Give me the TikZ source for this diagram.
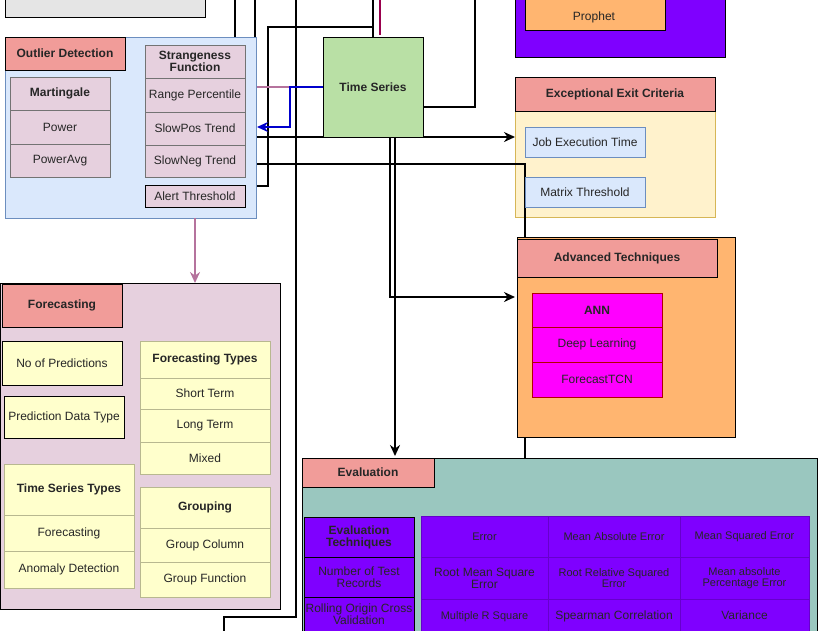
\documentclass[tikz,border=0pt]{standalone}
\usepackage{fontspec}
\setmainfont{Liberation Sans}
\usetikzlibrary{arrows.meta}
\definecolor{hdr}{HTML}{F19C99}
\definecolor{pinkf}{HTML}{E6D0DE}
\definecolor{bluef}{HTML}{DAE8FC}
\definecolor{blued}{HTML}{6C8EBF}
\definecolor{yel}{HTML}{FFFFCC}
\definecolor{yeld}{HTML}{B8B890}
\definecolor{purp}{HTML}{7F00FF}
\definecolor{purpd}{HTML}{6600CC}
\definecolor{orng}{HTML}{FFB570}
\definecolor{cream}{HTML}{FFF2CC}
\definecolor{creamd}{HTML}{D6B656}
\definecolor{teal}{HTML}{9AC7BF}
\definecolor{green}{HTML}{B9E0A5}
\definecolor{mag}{HTML}{FF00FF}
\definecolor{pinkl}{HTML}{B5739D}
\definecolor{maroon}{HTML}{99004D}
\newcommand\bx[7]{\node[#6, minimum width={#4-#2}, minimum height={#5-#3}] (#1) at ({(#2+#4)/2},{(#3+#5)/2}) {#7};}
\begin{document}
\begin{tikzpicture}[x=1pt,y=-1pt,
  every node/.style={inner sep=0pt, align=center, font=\fontsize{12}{14}\selectfont, text=black!85},
  b/.style={font=\fontsize{12}{14}\selectfont\bfseries},
  base/.style={draw, line width=0.8pt},
  hd/.style={base, fill=hdr, draw=black, b},
  pk/.style={base, fill=pinkf, draw=black!55},
  yl/.style={base, fill=yel, draw=yeld},
  pu/.style={base, fill=purp, draw=purpd},
  wire/.style={line width=2.5pt, black},
  arr/.style={-{Stealth[length=11pt,width=10pt]}}]
\useasboundingbox (0,0) rectangle (834,630);
\clip (0,0) rectangle (834,630);
% background top boxes
\bx{gray}{5}{-10}{205}{17}{base, fill=black!10, draw=black}{}
\bx{purpbox}{515}{-10}{725}{57}{base, fill=purp, draw=black}{}
\bx{prophet}{525}{-10}{665}{30}{base, fill=orng, draw=black}{}
\node at (594,17) {Prophet};
% wires
\coordinate (t1) at (235,-5); \coordinate (t1b) at (235,37);
\draw[wire] (t1) -- (t1b);
\coordinate (t2) at (255,-5); \coordinate (t2b) at (255,37);
\draw[wire] (t2) -- (t2b);
\coordinate (t3) at (296,-5); \coordinate (t3b) at (224,640);
\draw[wire] (t3) -- (296,617) -- (224,617) -- (t3b);
\coordinate (t4) at (373,-5);
\draw[wire] (257,186) -- (268,186) -- (268,27) -- (373,27);
\draw[wire] (t4) -- (373,37);
\coordinate (t5) at (475,-5);
\draw[wire] (423,107) -- (475,107) -- (t5);
\draw[line width=2.5pt, maroon] (380,-5) -- (380,35);
\draw[wire] (390,137) -- (390,297) -- (515,297) [arr];
\draw[wire, arr] (395,137) -- (395,456);
% outlier detection
\bx{outlier}{5}{37}{256}{218}{base, fill=bluef, draw=blued}{}
\bx{odh}{5}{37}{125}{70}{hd}{Outlier Detection}
\bx{mart}{10}{77}{110}{110}{pk, b}{Martingale}
\bx{power}{10}{110}{110}{144}{pk}{Power}
\bx{poweravg}{10}{144}{110}{177}{pk}{PowerAvg}
\bx{strange}{145}{45}{245}{78}{pk, b}{Strangeness\\[-2pt]Function}
\bx{range}{145}{78}{245}{112}{pk}{Range Percentile}
\bx{slowpos}{145}{112}{245}{145}{pk}{SlowPos Trend}
\bx{slowneg}{145}{145}{245}{177}{pk}{SlowNeg Trend}
\bx{alert}{145}{185}{245}{207}{pk, draw=black}{Alert Threshold}
% exceptional
\bx{exc}{515}{77}{715}{217}{base, fill=cream, draw=creamd}{}
\bx{exch}{515}{77}{715}{111}{hd}{Exceptional Exit Criteria}
\draw[wire, arr] (257,137) -- (515,137);
\draw[wire] (257,164) -- (525,164) -- (525,458);
\bx{job}{525}{127}{645}{157}{base, fill=bluef, draw=blued}{Job Execution Time}
\bx{matrix}{525}{177}{645}{207}{base, fill=bluef, draw=blued}{Matrix Threshold}
% time series
\bx{ts}{323}{37}{423}{137}{base, fill=green, draw=black, b}{Time Series}
\draw[line width=2pt, pinkl] (257,87) -- (290,87);
\draw[line width=2pt, blue!80!black, arr] (ts.west) -- (290,87) -- (290,127) -- (257,127);
% advanced
\bx{adv}{517}{237}{735}{437}{base, fill=orng, draw=black}{}
\bx{advh}{517}{239}{717}{277}{hd}{Advanced Techniques}
\bx{ann}{532}{293}{662}{327}{base, fill=mag, draw=red!70!black, b}{ANN}
\bx{deep}{532}{327}{662}{362}{base, fill=mag, draw=red!70!black}{Deep Learning}
\bx{tcn}{532}{362}{662}{397}{base, fill=mag, draw=red!70!black}{ForecastTCN}
% forecasting
\draw[line width=2pt, pinkl, arr] (outlier.south -| 195,0) -- (195,283);
\bx{fc}{0}{283}{280}{609}{base, fill=pinkf, draw=black}{}
\bx{fch}{2}{284}{122}{327}{hd}{Forecasting}
\bx{nop}{2}{341}{122}{385}{base, fill=yel, draw=black}{No of Predictions}
\bx{pdt}{4}{396}{124}{438}{base, fill=yel, draw=black}{Prediction Data Type}
\bx{ft}{140}{341}{270}{378}{yl, b}{Forecasting Types}
\bx{st}{140}{378}{270}{409}{yl}{Short Term}
\bx{lt}{140}{409}{270}{442}{yl}{Long Term}
\bx{mx}{140}{442}{270}{474}{yl}{Mixed}
\bx{tst}{4}{464}{134}{515}{yl, b}{Time Series Types}
\bx{tsf}{4}{515}{134}{551}{yl}{Forecasting}
\bx{tsa}{4}{551}{134}{588}{yl}{Anomaly Detection}
\bx{grp}{140}{487}{270}{528}{yl, b}{Grouping}
\bx{gc}{140}{528}{270}{562}{yl}{Group Column}
\bx{gf}{140}{562}{270}{597}{yl}{Group Function}
% evaluation
\bx{ev}{302}{458}{817}{645}{base, fill=teal, draw=black}{}
\bx{evh}{302}{458}{434}{487}{hd}{Evaluation}
\bx{et}{304}{517}{414}{557}{base, fill=purp, draw=black, b}{Evaluation\\[-2pt]Techniques}
\bx{ntr}{304}{557}{414}{597}{base, fill=purp, draw=black}{Number of Test\\[-2pt]Records}
\bx{roc}{304}{597}{414}{645}{base, fill=purp, draw=black}{Rolling Origin Cross\\[-2pt]Validation\\~}
\tikzset{mt/.style={pu, font=\fontsize{11}{13}\selectfont}}
\bx{m1}{421}{516}{548}{557}{mt}{Error}
\bx{m2}{548}{516}{680}{557}{mt}{Mean Absolute Error}
\bx{m3}{680}{516}{809}{557}{mt}{Mean Squared Error}
\bx{m4}{421}{557}{548}{599}{pu}{Root Mean Square\\[-2pt]Error}
\bx{m5}{548}{557}{680}{599}{mt}{Root Relative Squared\\[-2pt]Error}
\bx{m6}{680}{557}{809}{599}{mt}{Mean absolute\\[-2pt]Percentage Error}
\bx{m7}{421}{599}{548}{645}{mt}{Multiple R Square\\~}
\bx{m8}{548}{599}{680}{645}{pu}{Spearman Correlation\\~}
\bx{m9}{680}{599}{809}{645}{pu}{Variance\\~}
\end{tikzpicture}
\end{document}
